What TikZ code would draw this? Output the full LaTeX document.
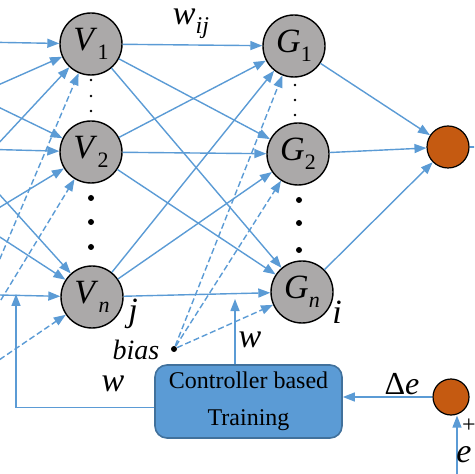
\documentclass[tikz,border=0pt]{standalone}
\usepackage{fontspec}
\setmainfont{Liberation Serif}
\usetikzlibrary{arrows.meta}
\definecolor{linkblue}{RGB}{91,155,213}
\definecolor{boxedge}{RGB}{65,113,156}
\definecolor{nodegray}{RGB}{171,169,169}
\definecolor{sumorange}{RGB}{197,90,17}
\newcommand{\neu}[2]{\textit{#1}\raisebox{-0.55ex}{\fontsize{11}{11}\selectfont #2}}

\begin{document}
\begin{tikzpicture}[x=0.5pt, y=-0.5pt,
            graynode/.style={circle, draw=black, fill=nodegray, line width=0.7pt, minimum size=31pt, inner sep=0pt, font=\fontsize{17}{17}\selectfont},
            orangenode/.style={circle, draw=black, fill=sumorange, line width=0.6pt, minimum size=21pt, inner sep=0pt},
            bluebox/.style={rectangle, rounded corners=6pt, draw=boxedge, fill=linkblue, line width=0.8pt, minimum width=93.5pt, minimum height=36.5pt, align=center, font=\fontsize{12}{18.5}\selectfont},
            link/.style={draw=linkblue, line width=0.7pt, -{Triangle[length=6pt, width=4.5pt]}},
            biaslink/.style={link, dash pattern=on 3pt off 1.5pt},
            varlabel/.style={inner sep=0pt, font=\fontsize{17}{17}\selectfont\itshape},
            ]
            \useasboundingbox (0,0) rectangle (474,474);
            \clip (0,0) rectangle (474,474);
            % hidden layer and output layer
            \node[graynode] (V1) at (91,44) {\neu{V}{1}};
            \node[graynode] (V2) at (91,152) {\neu{V}{2}};
            \node[graynode] (Vn) at (92,297) {\neu{V}{\textit{n}}};
            \node[graynode] (G1) at (294,46) {\neu{G}{1}};
            \node[graynode] (G2) at (298,154) {\neu{G}{2}};
            \node[graynode] (Gn) at (302,292) {\neu{G}{\textit{n}}};
            \node[orangenode] (sum) at (448,147) {};
            \node[orangenode, minimum size=18pt] (cmp) at (451,397) {};
            \node[bluebox] (ctrl) at (248.5,401.5) {Controller based\\Training};
            \node[circle, fill=black, inner sep=0pt, minimum size=3pt] (bias) at (174,349) {};
            % points outside the frame
            \coordinate (X1) at (-140,40);
            \coordinate (X2) at (-140,146);
            \coordinate (Xn) at (-140,292);
            \coordinate (B1) at (-60,400);
            \coordinate (out) at (490,147);
            \coordinate (ein) at (457,490);
            \coordinate (fbl) at (16,294);
            \coordinate (fbr) at (235,299);
            % weights
            \foreach \s in {X1,X2,Xn} \foreach \t in {V1,V2,Vn} \draw[link] (\s) -- (\t);
            \foreach \t in {V1,V2,Vn} \draw[biaslink] (B1) -- (\t);
            \foreach \s in {V1,V2,Vn} \foreach \t in {G1,G2,Gn} \draw[link] (\s) -- (\t);
            \foreach \t in {G1,G2,Gn} \draw[biaslink] (bias) -- (\t);
            \foreach \s in {G1,G2,Gn} \draw[link] (\s) -- (sum);
            \draw[draw=linkblue, line width=0.7pt] (sum) -- (out);
            % training loop
            \draw[link] ([yshift=-3pt]ctrl.west) -| (fbl);
            \draw[link] (ctrl.north -| fbr) -- (fbr);
            \draw[link] (cmp.west) -- (cmp.west -| ctrl.east);
            \draw[link] (ein) -- (ein |- cmp.south);
            % dots
            \foreach \y in {80,96,111} \fill (91,\y) circle (0.7pt);
            \foreach \y in {85,100,115} \fill (295,\y) circle (0.7pt);
            \foreach \y in {198,222,247} \fill (91,\y) circle (1.5pt);
            \foreach \y in {200,223,250} \fill (299,\y) circle (1.5pt);
            % labels
            \node[varlabel] (wij) at (191,24) {w\raisebox{-0.6ex}{\fontsize{12}{12}\selectfont ij}};
            \node[varlabel] (jlab) at (133,314) {j};
            \node[varlabel] (ilab) at (337,312) {i};
            \node[inner sep=0pt, font=\fontsize{14}{14}\selectfont\itshape] (biaslab) at (136,350) {bias};
            \node[varlabel] (wl) at (113,384) {w};
            \node[varlabel] (wr) at (250,340) {w};
            \node[inner sep=0pt, font=\fontsize{16}{16}\selectfont] (dlab) at (402,384) {Δ\textit{e}};
            \node[inner sep=0pt, font=\fontsize{12}{12}\selectfont] (plus) at (469,426) {+};
            \node[varlabel] (elab) at (464,455) {e};
        \end{tikzpicture}
\end{document}
